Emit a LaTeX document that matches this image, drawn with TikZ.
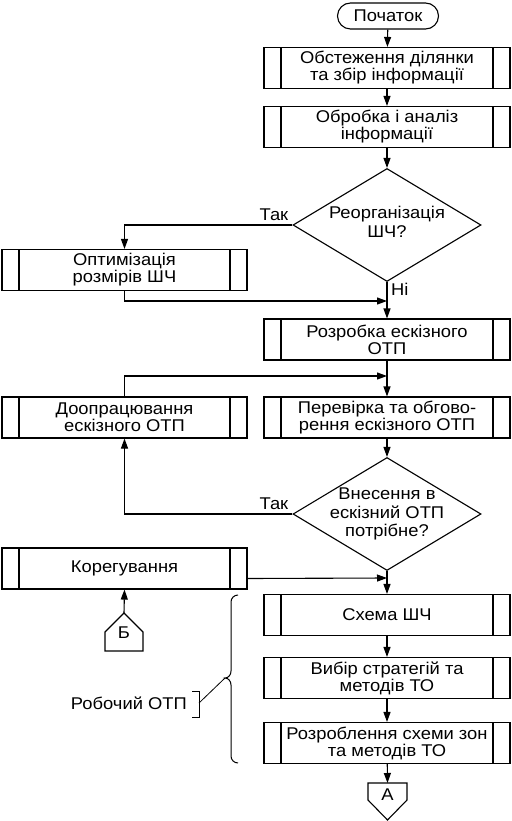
\documentclass[tikz,border=0pt]{standalone}
\usepackage{fontspec}
\setmainfont{Liberation Sans}[FakeStretch=1.08]
\usetikzlibrary{shapes.geometric,arrows.meta}
\begin{document}
\begin{tikzpicture}[x=1pt,y=-1pt,
  every node/.style={font=\fontsize{17}{17}\selectfont},
  ln/.style={line width=1.1pt},
  arr/.style={ln,-{Triangle[length=10pt,width=7pt]}},
  proc/.style={draw,ln,minimum width=246pt,minimum height=41pt,inner sep=0pt,align=center,
    path picture={\draw[ln] ([xshift=17pt]path picture bounding box.north west) -- ([xshift=17pt]path picture bounding box.south west)
      ([xshift=-17pt]path picture bounding box.north east) -- ([xshift=-17pt]path picture bounding box.south east);}},
  dec/.style={draw,ln,diamond,aspect=1.65,minimum width=188pt,minimum height=113pt,inner sep=0pt},
  dtext/.style={align=center,inner sep=0pt,font=\fontsize{17}{18.5}\selectfont},
  term/.style={draw,ln,rounded corners=13pt,minimum width=101pt,minimum height=26pt,inner sep=0pt},
  lbl/.style={inner sep=1pt}
]
\useasboundingbox (0,0) rectangle (511,821);
\fill[white] (0,0) rectangle (511,821);

\node[term] (start) at (388,16) {Початок};
\node[proc] (b1) at (387,68) {Обстеження ділянки\\та збір інформації};
\node[proc] (b2) at (387,127) {Обробка і аналіз\\інформації};
\node[dec] (d1) at (387,225) {};
\node[dtext] (d1t) at (387,222) {Реорганізація\\ШЧ?};
\node[proc,minimum width=245pt] (opt) at (124.5,270) {Оптимізація\\розмірів ШЧ};
\node[proc] (roz) at (387,339.5) {Розробка ескізного\\ОТП};
\node[proc,minimum width=245pt] (doo) at (124.5,417.5) {Доопрацювання\\ескізного ОТП};
\node[proc] (per) at (387,417.5) {Перевірка та обгово-\\рення ескізного ОТП};
\node[dec] (d2) at (387,514) {};
\node[dtext] (d2t) at (387,514) {Внесення в\\ескізний ОТП\\потрібне?};
\node[proc,minimum width=245pt] (kor) at (124.5,568.5) {Корегування};
\node[proc] (sch) at (387,615) {Схема ШЧ};
\node[proc] (vyb) at (387,678) {Вибір стратегій та\\методів ТО};
\node[proc] (rzr) at (387,743) {Розроблення схеми зон\\та методів ТО};

% connector A
\node[inner sep=0pt] (A) at (387.5,795) {А};
\coordinate (Atop) at (387.5,783);
\draw[ln] (368,783) -- (407,783) -- (407,800) -- (387.5,820) -- (368,800) -- cycle;
% connector B
\node[inner sep=0pt] (B) at (124,633) {Б};
\coordinate (Btop) at (124,613);
\draw[ln] (124,613) -- (143,632) -- (143,651) -- (105,651) -- (105,632) -- cycle;

% main flow
\draw[arr] (start) -- (b1);
\draw[arr] (b1) -- (b2);
\draw[arr] (b2) -- (d1);
\draw[arr] (d1.west) -| (opt.north);
\node[lbl,anchor=base east] at ([xshift=-3pt,yshift=5pt]d1.west) {Так};
\draw[arr] (d1.south) -- (roz.north);
\node[lbl,anchor=north west] at ([xshift=3pt,yshift=0pt]d1.south) {Ні};
\coordinate (j1) at (387,301);
\draw[arr] (opt.south) |- (j1);
\draw[arr] (roz) -- (per);
\coordinate (j2) at (387,376);
\draw[arr] (doo.north) |- (j2);
\draw[arr] (per) -- (d2);
\draw[arr] (d2.west) -| (doo.south);
\node[lbl,anchor=base east] at ([xshift=-3pt,yshift=5pt]d2.west) {Так};
\draw[arr] (d2.south) -- (sch.north);
\coordinate (j3) at (387,578);
\draw[arr] ([yshift=-10pt]kor.east) -- (j3);
\draw[arr] (Btop) -- (kor.south);
\draw[arr] (sch) -- (vyb);
\draw[arr] (vyb) -- (rzr);
\draw[arr] (rzr) -- (Atop);

% brace and label
\draw[line width=1pt] (238,595) to[out=180,in=90] (231,602) -- (231,671) to[out=-90,in=0] (225,678)
  to[out=0,in=90] (231,685) -- (231,756) to[out=-90,in=180] (238,763);
\draw[line width=0.8pt] (192,691) -- (199,691) -- (199,717) -- (192,717);
\draw[line width=0.8pt] (199,703) -- (225,678);
\node[lbl,anchor=east] (rob) at (188,703) {Робочий ОТП};
\end{tikzpicture}
\end{document}
